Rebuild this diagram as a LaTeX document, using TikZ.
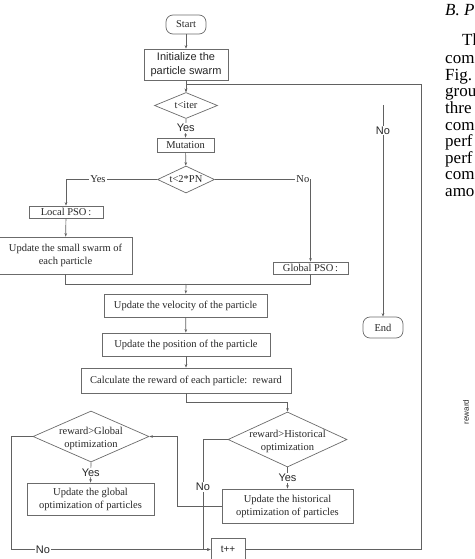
\documentclass[tikz,border=0pt]{standalone}
\usepackage{fontspec}
\setmainfont{Liberation Serif}
\newfontfamily\arialf{Liberation Sans}
\usetikzlibrary{shapes.geometric,arrows.meta}
\begin{document}
\begin{tikzpicture}[x=1pt,y=-1pt,
  every node/.style={inner sep=0pt, text=black!85},
  ln/.style={draw=black!62, line width=0.7pt},
  arr/.style={ln, -{Stealth[length=3.5pt,width=2.6pt]}},
  box/.style={draw=black!58, line width=0.7pt, rectangle, align=center, font=\fontsize{10.5}{13}\selectfont},
  term/.style={box, rounded corners=7pt},
  dia/.style={diamond, draw=black!58, line width=0.7pt},
  dtxt/.style={align=center, font=\fontsize{10.5}{13}\selectfont},
  lab/.style={fill=white, inner sep=1pt, font=\arialf\fontsize{11}{13}\selectfont},
  slab/.style={fill=white, inner sep=1pt, font=\fontsize{10.5}{13}\selectfont},
  pg/.style={anchor=base west, font=\fontsize{17}{19}\selectfont, text=black}
]
\useasboundingbox (0,0) rectangle (474,559);
\clip (0,0) rectangle (474,559);

% nodes
\node[term, minimum width=40pt, minimum height=19pt] (start) at (186,24.5) {Start};
\node[box, font=\arialf\fontsize{11}{13.5}\selectfont, minimum width=84pt, minimum height=31pt] (init) at (186,64.5) {Initialize the\\particle swarm};
\node[dia, minimum width=63pt, minimum height=26pt] (ti) at (186,105.5) {};
\node[dtxt] (tit) at (ti) {t<iter};
\node[box, minimum width=57pt, minimum height=14pt] (mut) at (185.5,145) {Mutation};
\node[dia, minimum width=57pt, minimum height=27pt] (t2) at (186,179.5) {};
\node[dtxt] (t2t) at (t2) {t<2*PN};
\node[box, minimum width=74pt, minimum height=12pt] (loc) at (66,212) {Local PSO\,:};
\node[box, minimum width=133pt, minimum height=37pt] (small) at (65.5,255.5) {Update the small swarm of\\each particle};
\node[box, minimum width=75pt, minimum height=12pt] (glob) at (310.5,268) {Global PSO\,:};
\node[box, minimum width=163pt, minimum height=23pt] (vel) at (185.5,305.5) {Update the velocity of the particle};
\node[box, minimum width=168pt, minimum height=23pt] (pos) at (186,344.5) {Update the position of the particle};
\node[box, minimum width=210pt, minimum height=25pt] (calc) at (186,380.5) {Calculate the reward of each particle:\ \ reward};
\node[dia, minimum width=119pt, minimum height=55pt] (hd) at (287.5,439.5) {};
\node[dtxt] (hdt) at (287.5,441) {reward>Historical\\optimization};
\node[box, minimum width=131pt, minimum height=34pt] (uh) at (287.5,506) {Update the historical\\optimization of particles};
\node[dia, minimum width=116pt, minimum height=51pt] (gd) at (91,436.5) {};
\node[dtxt] (gdt) at (91,438.5) {reward>Global\\optimization};
\node[box, minimum width=127pt, minimum height=32pt] (ug) at (90.5,499) {Update the global\\optimization of particles};
\node[box, font=\arialf\fontsize{10}{12}\selectfont, minimum width=34pt, minimum height=23pt] (tpp) at (228,549.5) {t++};
\node[term, minimum width=40pt, minimum height=21pt] (end) at (383,327.5) {End};

% connectors
\coordinate (loopR) at (421.7,84.3);
\coordinate (mj) at (186,284);
\coordinate (cj) at (186,402);
\coordinate (hnb) at (203,549.5);
\coordinate (uj) at (177,436.5);
\coordinate (gl) at (11,436.5);
\coordinate (nstart) at (383,105);

\draw[arr] (start) -- (init);
\draw[arr] (init) -- (ti);
\draw[arr] (tpp.east) -| (loopR) -| (ti.north);
\draw[arr] (ti.south) -- node[lab] (y1) {Yes} (mut.north);
\draw[arr] (mut) -- (t2);
\draw[arr] (t2.west) -| node[slab, pos=0.325] (y2) {Yes} (loc.north);
\draw[arr] (t2.east) -| node[slab, pos=0.46] (n1) {No} (glob.north);
\draw[arr] (loc) -- (small);
\draw[ln] (small.south) |- (mj);
\draw[ln] (glob.south) |- (mj);
\draw[arr] (mj) -- (vel);
\draw[arr] (vel) -- (pos);
\draw[arr] (pos) -- (calc);
\draw[arr] (calc.south) -- (cj) -| (hd.north);
\draw[arr] (hd.south) -- node[lab] (y3) {Yes} (uh.north);
\draw[ln] (hd.west) -| node[lab, pos=0.716] (n2) {No} (hnb);
\draw[arr] (hnb) -- (tpp.west);
\draw[arr] (uh.west) -| (uj) -- (gd.east);
\draw[arr] (gd.west) -- (gl) |- node[lab, pos=0.58] (n3) {No} (tpp.west);
\draw[arr] (gd.south) -- node[lab] (y4) {Yes} (ug.north);
\draw[arr] (nstart) -- node[lab, pos=0.12] (n4) {No} (end.north);

% page text at the right edge (cut by the page border, as in the reference)
\node[pg, font=\itshape\fontsize{17}{19}\selectfont] (p0) at (445,16) {B. P};
\node[pg] (p1) at (462,46) {Th};
\node[pg] (p2) at (445,64) {com};
\node[pg] (p3) at (445,80.5) {Fig.};
\node[pg] (p4) at (445,97) {grou};
\node[pg] (p5) at (445,113.5) {thre};
\node[pg] (p6) at (445,130) {com};
\node[pg] (p7) at (445,146.5) {perf};
\node[pg] (p8) at (445,163) {perf};
\node[pg] (p9) at (445,179.5) {com};
\node[pg] (p10) at (445,196) {amo};
\node[font=\arialf\fontsize{8}{9}\selectfont, rotate=90] (rw) at (466,412) {reward};
\end{tikzpicture}
\end{document}
